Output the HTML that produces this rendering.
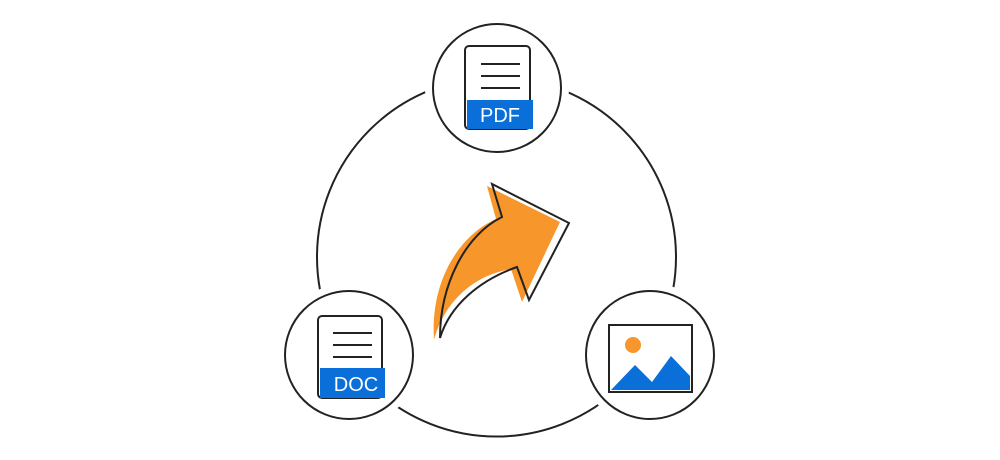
<!DOCTYPE html>
<html><head><style>body{margin:0;background:#fff}svg{display:block}</style></head>
<body>
<svg width="1000" height="460" viewBox="0 0 1000 460" xmlns="http://www.w3.org/2000/svg">
<circle cx="496.5" cy="257" r="179.5" fill="none" stroke="#222" stroke-width="2"/>
<g fill="#fff">
<circle cx="497" cy="88" r="72"/><circle cx="349" cy="355" r="72"/><circle cx="650" cy="355" r="72"/>
</g>
<g fill="#fff" stroke="#222" stroke-width="2">
<circle cx="497" cy="88" r="64"/><circle cx="349" cy="355" r="64"/><circle cx="650" cy="355" r="64"/>
</g>
<!-- arrow -->
<path d="M434,340 C430,280 460,235 496,219 L487,186 L560,222 L522,302 L511,269 C475,275 445,300 434,340 Z" fill="#f7962a"/>
<path d="M440,338 C440,285 465,235 502,217 L492,184 L569,223 L529,300 L517,267 C480,280 450,305 440,338 Z" fill="none" stroke="#222" stroke-width="2" stroke-linejoin="miter"/>
<!-- PDF -->
<rect x="465" y="46" width="65" height="83" rx="4" fill="#fff" stroke="#222" stroke-width="2"/>
<rect x="467" y="100" width="66" height="29" fill="#0a6fd8"/>
<g stroke="#222" stroke-width="2"><line x1="481" y1="64" x2="520" y2="64"/><line x1="481" y1="76" x2="520" y2="76"/><line x1="481" y1="88" x2="520" y2="88"/></g>
<text x="500" y="122" text-anchor="middle" font-family="Liberation Sans, sans-serif" font-size="20" fill="#fff">PDF</text>
<!-- DOC -->
<rect x="318" y="316" width="64" height="82" rx="4" fill="#fff" stroke="#222" stroke-width="2"/>
<rect x="320" y="368" width="65" height="30" fill="#0a6fd8"/>
<g stroke="#222" stroke-width="2"><line x1="333" y1="333" x2="372" y2="333"/><line x1="333" y1="345" x2="372" y2="345"/><line x1="333" y1="357" x2="372" y2="357"/></g>
<text x="356" y="391" text-anchor="middle" font-family="Liberation Sans, sans-serif" font-size="20" fill="#fff">DOC</text>
<!-- image -->
<rect x="609" y="325" width="83" height="67" fill="#fff" stroke="#222" stroke-width="2"/>
<circle cx="633" cy="345" r="8" fill="#f7962a"/>
<path d="M611,390 L635,365 L652,382 L671,356 L690,376 L690,390 Z" fill="#0a6fd8"/>
<rect x="609" y="325" width="83" height="67" fill="none" stroke="#222" stroke-width="2"/>
</svg>
</body></html>
